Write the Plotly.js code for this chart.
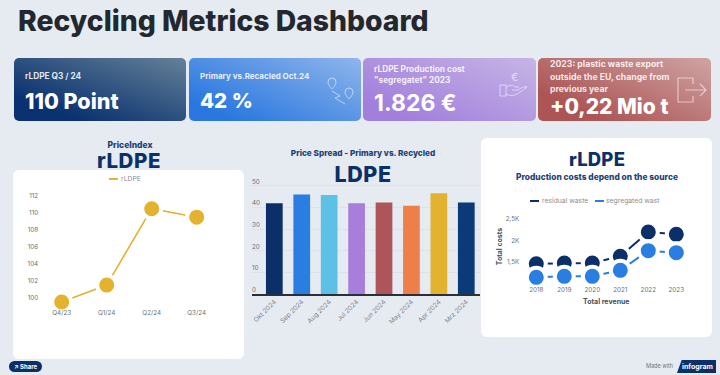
<!DOCTYPE html>
<html><head><meta charset="utf-8">
<script src="https://cdn.plot.ly/plotly-3.0.1.min.js"></script>
<style>
html,body{margin:0;padding:0;background:#e6ebf2;width:720px;height:375px;overflow:hidden;font-family:Inter,"Open Sans",sans-serif}
.abs{position:absolute}
.card{position:absolute;top:58px;height:63px;border-radius:5px;color:#fff;overflow:hidden}
.card .l{position:absolute;left:11px;font-size:8.3px;font-weight:700;line-height:11.5px;color:rgba(255,255,255,.88);white-space:nowrap}
.card .v{position:absolute;left:11px;font-size:21.5px;font-weight:800;line-height:28px;white-space:nowrap}
.panel{position:absolute;background:#fff;border-radius:6px}
.t{position:absolute;transform:translateX(-50%);white-space:nowrap;font-weight:800;text-align:center;color:#0b3069}
#chart{position:absolute;left:0;top:0;width:720px;height:375px}
svg.ic{position:absolute;fill:none;stroke:rgba(255,255,255,.55);stroke-width:1}
.lg{position:absolute;font-size:6.8px;line-height:9px;color:#8a8f96;white-space:nowrap}
.sw{position:absolute;height:2px}
</style></head><body>
<div class="abs" style="left:18px;top:2px;font-size:28.3px;font-weight:800;color:#23272e;line-height:38px;white-space:nowrap">Recycling Metrics Dashboard</div>

<div class="card" style="left:14px;width:172px;background:linear-gradient(20deg,#0a3270 20%,#76909f 115%)"><div class="l" style="top:13px">rLDPE Q3 / 24</div><div class="v" style="top:29px">110 Point</div></div>
<div class="card" style="left:189px;width:172px;background:linear-gradient(25deg,#2a78df 15%,#8fb5ec 100%)"><div class="l" style="top:13px;font-size:8px">Primary vs.Recacled Oct.24</div><div class="v" style="top:29px;font-size:20.5px">42 %</div>
<svg class="ic" style="left:136px;top:19px" width="30" height="28" viewBox="0 0 30 28"><path d="M7 1a4 4 0 0 1 4 4c0 3-4 7-4 7s-4-4-4-7a4 4 0 0 1 4-4zM24 11a4 4 0 0 1 4 4c0 3-4 7-4 7s-4-4-4-7a4 4 0 0 1 4-4zM7 14l8 5-5 2 10 6"/></svg></div>
<div class="card" style="left:363px;width:173px;background:linear-gradient(25deg,#a27fdc 15%,#c6b5e6 100%)"><div class="l" style="top:6px;line-height:11px">rLDPE Production cost<br>"segregatet" 2023</div><div class="v" style="top:31px;font-size:23px;font-weight:700">1.826 €</div>
<svg class="ic" style="left:136px;top:12px" width="30" height="30" viewBox="0 0 30 30"><path d="M1 15h6v11H1zM7 17c4-2 7-2 9 0h4M7 24c6 3 10 2 21-7-3-1-6 1-9 3h-6"/><text x="12" y="11" font-size="11" fill="rgba(255,255,255,.6)" stroke="none">€</text></svg></div>
<div class="card" style="left:538px;width:173px;background:linear-gradient(25deg,#ad5454 20%,#cfa4a4 100%)"><div class="l" style="top:0px;left:12px;line-height:12.5px;font-size:8.7px">2023: plastic waste export<br>outside the EU, change from<br>previous year</div><div class="v" style="top:35px;left:12px;font-size:21px">+0,22 Mio t</div>
<svg class="ic" style="left:138px;top:19px;stroke-width:1.2" width="32" height="26" viewBox="0 0 32 26"><path d="M17 7V1H2v24h15v-6M9 13h21M24 7l6 6-6 6"/></svg></div>

<div class="panel" style="left:13px;top:170px;width:231px;height:189px"></div>
<div class="panel" style="left:481px;top:138px;width:231px;height:199px"></div>

<div id="chart"></div>

<div class="t" style="left:130px;top:140.5px;font-size:8.5px;line-height:9px;color:#1d3f78">PriceIndex</div>
<div class="t" style="left:129px;top:153px;font-size:20.5px;line-height:15px;letter-spacing:.6px">rLDPE</div>
<div class="t" style="left:363px;top:148px;font-size:8.2px;line-height:10px;color:#1d3f78">Price Spread - Primary vs. Recycled</div>
<div class="t" style="left:363px;top:165.5px;font-size:21.5px;line-height:16px;letter-spacing:.6px">LDPE</div>
<div class="t" style="left:597px;top:152px;font-size:18.5px;line-height:15px;letter-spacing:.2px">rLDPE</div>
<div class="t" style="left:597px;top:172px;font-size:8.4px;line-height:10px;color:#1d3f78">Production costs depend on the source</div>

<div class="sw" style="left:109px;top:178px;width:9px;background:#e3b22f"></div><div class="lg" style="left:121px;top:174px">rLDPE</div>
<div class="sw" style="left:530px;top:200px;width:9px;background:#0b3069"></div><div class="lg" style="left:542px;top:196px">residual waste</div>
<div class="sw" style="left:595px;top:200px;width:9px;background:#2a7de1"></div><div class="lg" style="left:606px;top:196px">segregated wast</div>

<div class="abs" style="left:9px;top:361px;width:33px;height:11px;border-radius:6px;background:#0b3069;color:#fff;font-size:6px;font-weight:700;line-height:11px;text-align:center">↗ Share</div>
<div class="abs" style="left:646px;top:362px;font-size:5.5px;color:#6d7580;line-height:9px">Made with</div>
<div class="abs" style="left:677px;top:360px;width:39px;height:13px;background:#0b3069;clip-path:polygon(12% 0,100% 0,100% 100%,0 100%);color:#fff;font-size:7px;font-weight:700;line-height:13px;text-align:center;padding-left:2px;box-sizing:border-box">infogram</div>

<script>
var W = 720, H = 375;
function dx(a, b) { return [a / W, b / W]; }
function dy(top, bottom) { return [1 - bottom / H, 1 - top / H]; }

var indexQuarters = ["Q4/23", "Q1/24", "Q2/24", "Q3/24"];
var indexValues = [99.5, 101.5, 110.5, 109.5];

var spreadMonths = ["Okt 2024", "Sep 2024", "Aug 2024", "Jul 2024", "Jun 2024", "May 2024", "Apr 2024", "Mrz 2024"];
var spreadValues = [42, 46.1, 45.8, 42, 42.4, 40.9, 46.6, 42.4];
var spreadColors = ["#0b3069", "#2a7de1", "#5cc1e4", "#a77fdb", "#ad5558", "#ef7f4a", "#e3b22f", "#0b3a78"];

var costYears = ["2018", "2019", "2020", "2021", "2022", "2023"];
var residualWaste = [1461, 1477, 1477, 1632, 2198, 2143];
var segregatedWaste = [1143, 1167, 1167, 1306, 1764, 1717];
var costTickVals = [1500, 2000, 2500];
var costTickText = ["1,5K", "2K", "2,5K"];

var GOLD = "#e3b22f", NAVY = "#0b3069", BLUE = "#2a7de1";
var tickGrey = "#6a6f76";

function lineTrace(x, y, name, color, xa, ya, w) {
  return { type: "scatter", mode: "lines", x: x, y: y, name: name, xaxis: xa, yaxis: ya,
    line: { color: color, width: w }, showlegend: false, hoverinfo: "skip", cliponaxis: false };
}
function dotTrace(x, y, color, xa, ya) {
  return { type: "scatter", mode: "markers", x: x, y: y, xaxis: xa, yaxis: ya, showlegend: false, cliponaxis: false,
    marker: { color: color, size: 19, line: { color: "#ffffff", width: 4 } } };
}

var traces = [
  lineTrace(indexQuarters, indexValues, "rLDPE", GOLD, "x", "y", 1.6),
  dotTrace(indexQuarters, indexValues, GOLD, "x", "y"),
  { type: "bar", x: spreadMonths, y: spreadValues, xaxis: "x2", yaxis: "y2", width: 0.61, showlegend: false,
    marker: { color: spreadColors } },
  lineTrace(costYears, residualWaste, "residual waste", NAVY, "x3", "y3", 2),
  dotTrace(costYears, residualWaste, NAVY, "x3", "y3"),
  lineTrace(costYears, segregatedWaste, "segregated wast", BLUE, "x3", "y3", 2),
  dotTrace(costYears, segregatedWaste, BLUE, "x3", "y3")
];

var tf = { family: "Inter, Open Sans, sans-serif", size: 6.3, color: tickGrey };
var layout = {
  width: W, height: H, margin: { l: 0, r: 0, t: 0, b: 0 },
  paper_bgcolor: "rgba(0,0,0,0)", plot_bgcolor: "rgba(0,0,0,0)",
  font: { family: "Inter, Open Sans, sans-serif" },
  hovermode: false, showlegend: false,

  xaxis: { domain: dx(39.2, 219.2), anchor: "y", type: "category", range: [-0.5, 3.5], showgrid: false, zeroline: false,
    showline: false, tickfont: tf, ticks: "" },
  yaxis: { domain: dy(190, 308), anchor: "x", range: [98.8, 112.7], tick0: 100, dtick: 2, showgrid: false, zeroline: false,
    showline: false, tickfont: tf, ticks: "" },

  xaxis2: { domain: dx(252, 480), anchor: "y2", type: "category", range: [-0.814, 7.5], showgrid: false, zeroline: false,
    showline: true, linecolor: "#2b3038", linewidth: 1.5, tickfont: { family: tf.family, size: 6.5, color: "#7d828a" }, tickangle: -45, ticks: "" },
  yaxis2: { domain: dy(173, 294), anchor: "x2", range: [0, 56], tickmode: "array", tickvals: [0, 10, 20, 30, 40, 50], showgrid: true, gridcolor: "#dde2ea", gridwidth: 1,
    zeroline: false, showline: false, tickfont: tf, ticks: "", ticklabelposition: "inside top", ticklabelstandoff: -3 },

  xaxis3: { domain: dx(522.3, 690.3), anchor: "y3", type: "category", range: [-0.5, 5.5], showgrid: false, zeroline: false,
    showline: false, tickfont: tf, ticks: "", ticklabelstandoff: 2,
    title: { text: "Total revenue", standoff: 5, font: { size: 7, color: "#4a4f56", weight: 700 } } },
  yaxis3: { domain: dy(210, 283), anchor: "x3", range: [1012, 2709], tickmode: "array", tickvals: costTickVals, ticktext: costTickText,
    showgrid: false, zeroline: false, showline: false, tickfont: tf, ticks: "", ticklabelstandoff: 2,
    title: { text: "Total costs", standoff: 2, font: { size: 7, color: "#4a4f56", weight: 700 } } }
};
Plotly.newPlot("chart", traces, layout, { displayModeBar: false, staticPlot: true });
</script>
</body></html>
